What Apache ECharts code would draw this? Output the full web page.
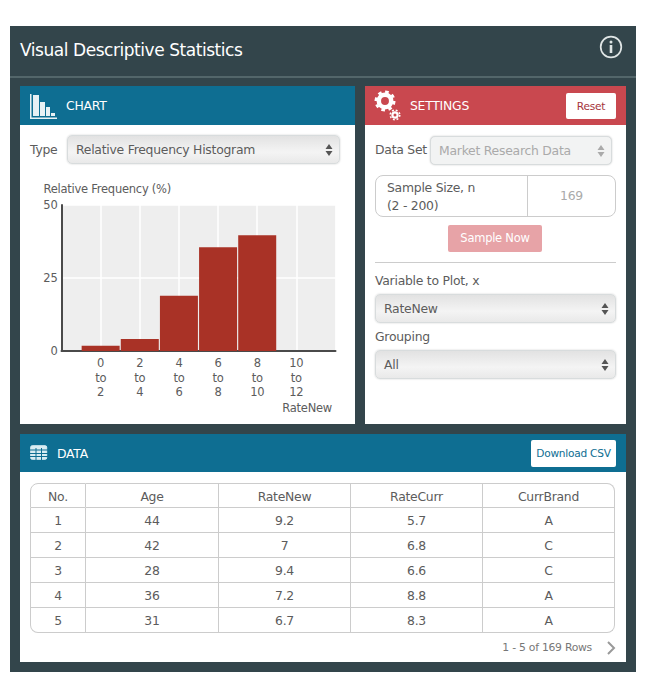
<!DOCTYPE html>
<html>
<head>
<meta charset="utf-8">
<title>Visual Descriptive Statistics</title>
<script src="https://cdn.jsdelivr.net/npm/echarts@6/dist/echarts.min.js"></script>
<style>
  html, body { margin: 0; padding: 0; background: #fff; width: 656px; height: 690px; overflow: hidden; }
  body { position: relative; font-family: "DejaVu Sans", sans-serif; color: #5c5c5c; font-size: 12.4px; letter-spacing: -.25px; }
  .abs, body > div, .abs > * { position: absolute; box-sizing: border-box; }
  .shell { left: 10px; top: 26px; width: 626px; height: 646px; background: #33454b; }
  .rule { left: 10px; top: 76px; width: 626px; height: 2px; background: #53666a; }
  .title { left: 20px; top: 36px; color: #fff; font-size: 17px; line-height: 28px; letter-spacing: -.45px; }
  .panel { background: #fff; }
  .head { color: #fff; font-size: 12.4px; line-height: 39px; }
  .sel { background: linear-gradient(#e2e2e2, #f4f4f4 60%, #e9e9e9); border: 1px solid #d8dcdd; border-radius: 5px; box-shadow: 0 0 2px #ccc; line-height: 27px; padding-left: 8px; color: #5c5c5c; }
  .sel.off { color: #aaa; background: #f2f3f3; }
  .sel svg { position: absolute; right: 6px; top: 8px; }
  .lbl { line-height: 18px; white-space: nowrap; }
  .btn { background: #fff; border-radius: 2px; text-align: center; font-size: 10.6px; }
  #chart { left: 20px; top: 125px; width: 335px; height: 299px; }
  table { border-collapse: separate; border-spacing: 0; table-layout: fixed; width: 585px; }
  td, th { height: 25px; padding: 1px 0 0; font-weight: normal; text-align: center; border-right: 1px solid #ccc; border-bottom: 1px solid #ccc; color: #5c5c5c; font-size: 12.4px; box-sizing: border-box; }
  tr > :first-child { border-left: 1px solid #ccc; }
  th { border-top: 1px solid #ccc; }
  th:first-child { border-top-left-radius: 8px; }
  th:last-child { border-top-right-radius: 8px; }
  tr:last-child td:first-child { border-bottom-left-radius: 8px; }
  tr:last-child td:last-child { border-bottom-right-radius: 8px; }
</style>
</head>
<body>
<div class="shell"></div>
<div class="rule"></div>
<div class="title">Visual Descriptive Statistics</div>
<svg style="position:absolute;left:599px;top:35px" width="24" height="24" viewBox="0 0 24 24"><circle cx="12" cy="12" r="10.3" fill="none" stroke="#dfe5e5" stroke-width="1.7"/><circle cx="12" cy="7" r="1.5" fill="#dfe5e5"/><rect x="10.7" y="10" width="2.6" height="8" fill="#dfe5e5"/></svg>

<!-- chart panel -->
<div class="panel" style="left:20px;top:86px;width:335px;height:338px"></div>
<div class="head" style="left:20px;top:86px;width:335px;height:39px;background:#0e6e92;padding-left:46px">CHART</div>
<svg style="position:absolute;left:29px;top:93px" width="28" height="27" viewBox="0 0 28 27" fill="#e8f1f4"><rect x="1" y="1" width="1.5" height="25"/><rect x="1" y="24.5" width="27" height="1.5"/><rect x="4" y="2" width="6" height="21"/><rect x="11" y="9" width="5" height="14"/><rect x="17" y="14" width="4" height="9"/><rect x="22" y="20" width="4" height="3"/></svg>
<div class="lbl" style="left:30px;top:141px">Type</div>
<div class="sel" style="left:67px;top:135px;width:273px;height:29px">Relative Frequency Histogram<svg width="8" height="12" viewBox="0 0 8 12" fill="#555"><path d="M4 0 7.5 5H.5ZM4 12 .5 7h7Z"/></svg></div>
<div id="chart"></div>

<!-- settings panel -->
<div class="panel" style="left:365px;top:86px;width:261px;height:338px"></div>
<div class="head" style="left:365px;top:86px;width:261px;height:39px;background:#c9484f;padding-left:45px">SETTINGS</div>
<svg style="position:absolute;left:374px;top:90px" width="28" height="32" viewBox="0 0 28 32"><g fill="none" stroke="#fff"><circle cx="11" cy="11" r="6.2" stroke-width="4.5"/><circle cx="11" cy="11" r="9.2" stroke-width="2.6" stroke-dasharray="3.6 3.6"/><circle cx="21" cy="25" r="2.6" stroke-width="2.2"/><circle cx="21" cy="25" r="4.8" stroke-width="1.5" stroke-dasharray="1.9 1.9"/></g></svg>
<div class="btn" style="left:566px;top:93px;width:50px;height:26px;line-height:26px;color:#a5343c">Reset</div>
<div class="lbl" style="left:375px;top:141px">Data Set</div>
<div class="sel off" style="left:430px;top:136px;width:182px;height:29px">Market Research Data<svg width="8" height="12" viewBox="0 0 8 12" fill="#aaa"><path d="M4 0 7.5 5H.5ZM4 12 .5 7h7Z"/></svg></div>
<div style="left:375px;top:175px;width:241px;height:42px;border:1px solid #ccc;border-radius:8px"></div>
<div style="left:527px;top:175px;width:1px;height:42px;background:#ccc"></div>
<div class="lbl" style="left:387px;top:179px">Sample Size, n</div>
<div class="lbl" style="left:387px;top:197px">(2 - 200)</div>
<div class="lbl" style="left:528px;top:187px;width:87px;text-align:center;color:#aaa">169</div>
<div style="left:448px;top:225px;width:94px;height:27px;line-height:27px;background:#e7a3a7;border-radius:2px;color:#fff;text-align:center;font-size:11.5px">Sample Now</div>
<div style="left:375px;top:262px;width:241px;height:1px;background:#ccc"></div>
<div class="lbl" style="left:375px;top:272px">Variable to Plot, x</div>
<div class="sel" style="left:375px;top:294px;width:241px;height:29px">RateNew<svg width="8" height="12" viewBox="0 0 8 12" fill="#555"><path d="M4 0 7.5 5H.5ZM4 12 .5 7h7Z"/></svg></div>
<div class="lbl" style="left:375px;top:328px">Grouping</div>
<div class="sel" style="left:375px;top:350px;width:241px;height:29px">All<svg width="8" height="12" viewBox="0 0 8 12" fill="#555"><path d="M4 0 7.5 5H.5ZM4 12 .5 7h7Z"/></svg></div>

<!-- data panel -->
<div class="panel" style="left:20px;top:434px;width:606px;height:228px"></div>
<div class="head" style="left:20px;top:434px;width:606px;height:38px;line-height:39px;background:#0e6e92;padding-left:37px">DATA</div>
<svg style="position:absolute;left:30px;top:445px" width="18" height="15" viewBox="0 0 18 15"><rect x=".7" y=".7" width="16" height="13.6" rx="1.5" fill="#d8ecf2" stroke="#d8ecf2"/><path d="M0 5h18M0 8.500h18M0 11.500h18M6 3v12M11.500 3v12" stroke="#0e6e92" stroke-width="1"/></svg>
<div class="btn" style="left:531px;top:440px;width:85px;height:27px;line-height:27px;color:#0e6e92">Download CSV</div>
<div style="left:30px;top:483px"><table id="tbl"></table></div>
<div class="lbl" style="left:440px;top:639px;width:152px;text-align:right;font-size:10.800px;color:#777">1 - 5 of 169 Rows</div>
<svg style="position:absolute;left:606px;top:641px" width="10" height="14" viewBox="0 0 10 14"><path d="M2 1 8 7 2 13" fill="none" stroke="#999" stroke-width="2"/></svg>

<script>
// histogram of RateNew, percent of 169 rows per bin
const binMids = [1, 3, 5, 7, 9, 11];
const binLabels = ["0\nto\n2", "2\nto\n4", "4\nto\n6", "6\nto\n8", "8\nto\n10", "10\nto\n12"];
const relFreq = [1.8, 4.1, 18.9, 35.5, 39.6, 0];

// table rows
const colNames = ["No.", "Age", "RateNew", "RateCurr", "CurrBrand"];
const colWidths = [56, 133, 132, 132, 132];
const colNo = [1, 2, 3, 4, 5];
const colAge = [44, 42, 28, 36, 31];
const colRateNew = ["9.2", "7", "9.4", "7.2", "6.7"];
const colRateCurr = ["5.7", "6.8", "6.6", "8.8", "8.3"];
const colBrand = ["A", "C", "C", "A", "A"];

document.getElementById("tbl").innerHTML =
  "<colgroup>" + colWidths.map((w) => `<col style="width:${w}px">`).join("") + "</colgroup>" +
  "<tr>" + colNames.map((n) => `<th>${n}</th>`).join("") + "</tr>" +
  colNo.map((n, i) => `<tr><td>${n}</td><td>${colAge[i]}</td><td>${colRateNew[i]}</td><td>${colRateCurr[i]}</td><td>${colBrand[i]}</td></tr>`).join("");

const txt = "#5c5c5c";
const font = "DejaVu Sans";
echarts.init(document.getElementById("chart"), null, { renderer: "svg" }).setOption({
  animation: false,
  grid: { left: 41.5, top: 80, width: 274, height: 146, show: true, backgroundColor: "#eeeeee", borderWidth: 0 },
  xAxis: {
    type: "value", min: -1, max: 13, interval: 2,
    name: "RateNew", nameLocation: "end", nameGap: -3.5,
    nameTextStyle: { color: txt, fontFamily: font, fontSize: 11.5, align: "right", verticalAlign: "top", padding: [51, 0, 0, 0] },
    axisLine: { show: true, onZero: false, lineStyle: { color: "#4a4a4a", width: 2 } },
    axisTick: { show: false },
    splitLine: { show: true, lineStyle: { color: "#fff", width: 1.5 } },
    axisLabel: {
      color: txt, fontFamily: font, fontSize: 11.5, lineHeight: 14.5, margin: 5,
      formatter: (v) => { const i = binMids.indexOf(v); return i < 0 ? "" : binLabels[i]; },
    },
  },
  yAxis: {
    type: "value", min: 0, max: 50, interval: 25,
    name: "Relative Frequency (%)", nameLocation: "end", nameGap: 10,
    nameTextStyle: { color: txt, fontFamily: font, fontSize: 11.5, align: "left", padding: [0, 0, 0, -18] },
    axisLine: { show: true, onZero: false, lineStyle: { color: "#4a4a4a", width: 2 } },
    axisTick: { show: false },
    splitLine: { show: true, lineStyle: { color: "#fff", width: 1.5 } },
    axisLabel: { color: txt, fontFamily: font, fontSize: 11.5, margin: 4, padding: [2, 0, 0, 0] },
  },
  series: [{
    type: "bar", barWidth: 38, itemStyle: { color: "#a93226" },
    data: binMids.map((m, i) => [m, relFreq[i]]),
  }],
});
</script>
</body>
</html>
